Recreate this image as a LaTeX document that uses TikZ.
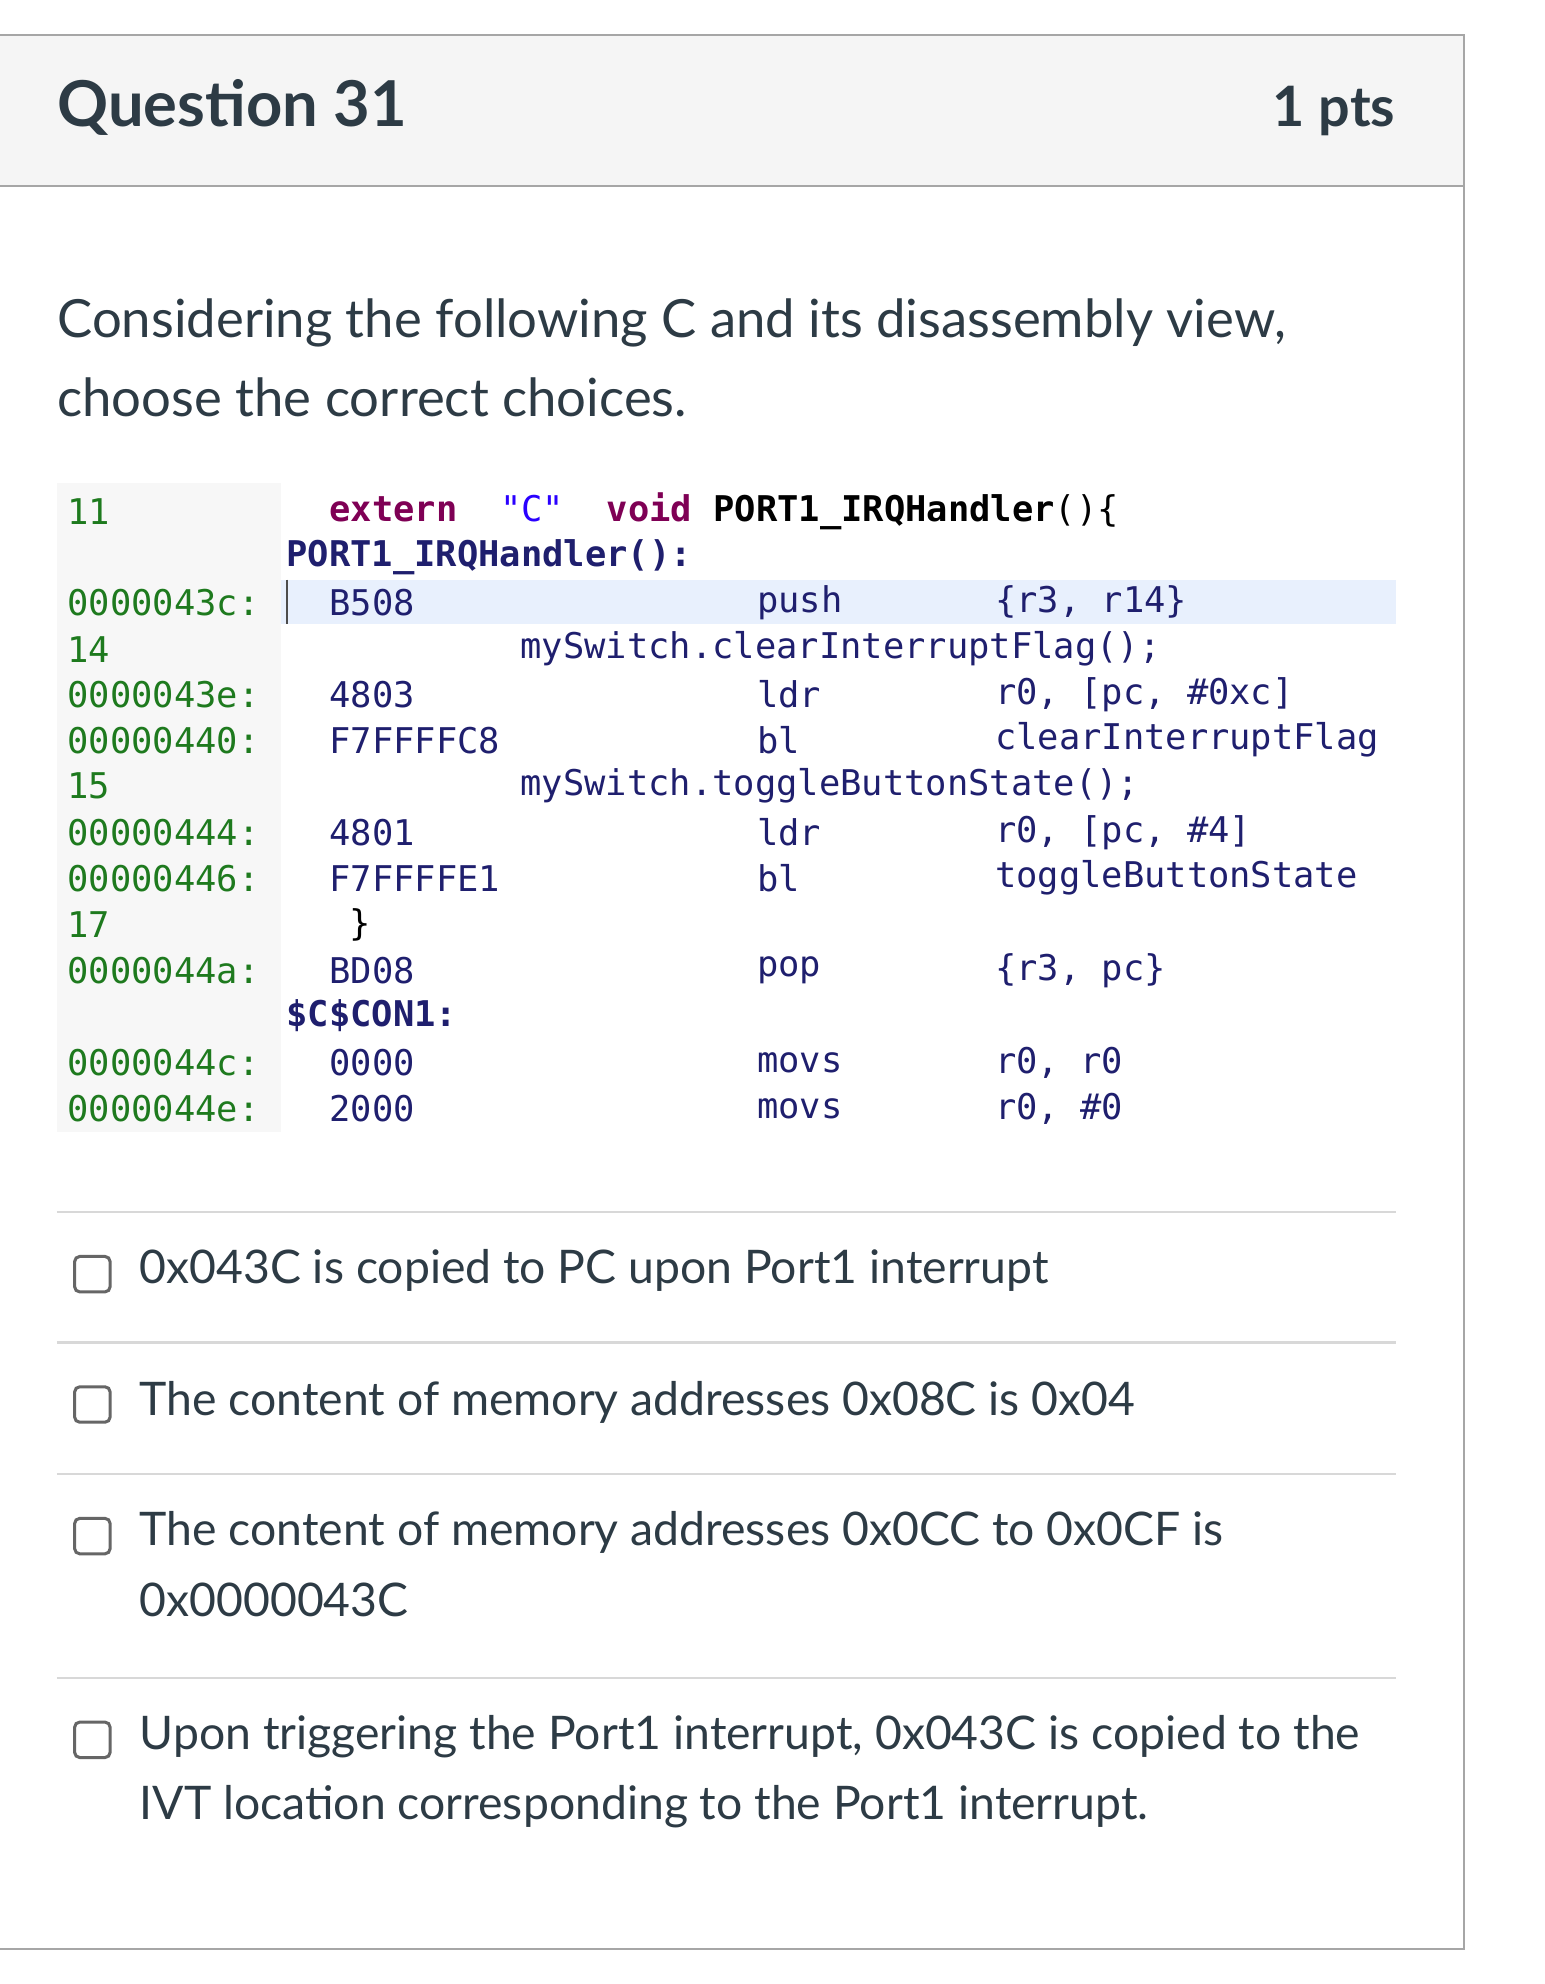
\documentclass[tikz,border=0pt]{standalone}
\usepackage{fontspec}
\setmainfont{Lato}
\newfontfamily\mono{DejaVu Sans Mono}[Scale=1.0]
\definecolor{addr}{HTML}{1E7A1E}
\definecolor{kw}{HTML}{7F0055}
\definecolor{str}{HTML}{2A00FF}
\definecolor{asm}{HTML}{1F1F6E}
\definecolor{hl}{HTML}{E8F0FD}
\definecolor{sep}{HTML}{D8D8D8}
\definecolor{txt}{HTML}{2D3B45}
\tikzset{
  c/.style={anchor=west,inner sep=0pt,font=\mono\fontsize{14}{16}\selectfont,text=asm},
  ad/.style={c,text=addr},
  opt/.style={anchor=west,inner sep=0pt,font=\fontsize{18.3}{28}\selectfont,text=txt,align=left},
  box/.style={draw=black!60,line width=1.2pt,rounded corners=2pt,minimum size=14pt,inner sep=0pt},
}
\begin{document}
\begin{tikzpicture}[x=0.5pt,y=-0.5pt]
\useasboundingbox (0,0) rectangle (1221,1568);
\fill[white] (0,0) rectangle (1221,1568);
\draw[black!35,line width=0.8pt,fill=black!4] (0,28) -- (1157,28) -- (1157,147) -- (0,147);
\draw[black!35,line width=0.8pt] (1157,147) -- (1157,1540) -- (0,1540);
\node[anchor=west,inner sep=0pt,font=\bfseries\fontsize{25}{30}\selectfont,text=txt] (title) at (45,85) {Question 31};
\node[anchor=east,inner sep=0pt,font=\bfseries\fontsize{22}{26}\selectfont,text=txt] (pts) at (1103,88) {1 pts};
\node[anchor=north west,inner sep=0pt,font=\fontsize{20.8}{31}\selectfont,text=txt,align=left] (q) at (45,236) {Considering the following C and its disassembly view,\\choose the correct choices.};
% code block
\fill[black!3] (45,382) rectangle (222,895);
\fill[hl] (222,458) rectangle (1103,493);
\draw[black!70,line width=0.6pt] (227,458) -- (227,493);
\node[ad] (l1) at (53,404) {11};
\node[c] (s1) at (260,404) {\textcolor{kw}{\textbf{extern}}\ \ \textcolor{str}{"C"}\ \ \textcolor{kw}{\textbf{void}} \textcolor{black}{\textbf{PORT1\_IRQHandler}}\textcolor{black}{()\{}};
\node[c,text=asm] (lab1) at (226,440) {\textbf{PORT1\_IRQHandler():}};
\node[ad] (a1) at (53,476) {0000043c:};
\node[c] (h1) at (260,476) {B508};
\node[c] (m1) at (598,476) {push};
\node[c] (o1) at (786,476) {\{r3, r14\}};
\node[ad] (l2) at (53,513) {14};
\node[c] (s2) at (411,513) {mySwitch.clearInterruptFlag();};
\node[ad] (a2) at (53,549) {0000043e:};
\node[c] (h2) at (260,549) {4803};
\node[c] (m2) at (598,549) {ldr};
\node[c] (o2) at (786,549) {r0, [pc, \#0xc]};
\node[ad] (a3) at (53,585) {00000440:};
\node[c] (h3) at (260,585) {F7FFFFC8};
\node[c] (m3) at (598,585) {bl};
\node[c] (o3) at (786,585) {clearInterruptFlag};
\node[ad] (l3) at (53,621) {15};
\node[c] (s3) at (411,621) {mySwitch.toggleButtonState();};
\node[ad] (a4) at (53,658) {00000444:};
\node[c] (h4) at (260,658) {4801};
\node[c] (m4) at (598,658) {ldr};
\node[c] (o4) at (786,658) {r0, [pc, \#4]};
\node[ad] (a5) at (53,694) {00000446:};
\node[c] (h5) at (260,694) {F7FFFFE1};
\node[c] (m5) at (598,694) {bl};
\node[c] (o5) at (786,694) {toggleButtonState};
\node[ad] (l4) at (53,731) {17};
\node[c,text=black] (s4) at (276,731) {\}};
\node[ad] (a6) at (53,767) {0000044a:};
\node[c] (h6) at (260,767) {BD08};
\node[c] (m6) at (598,767) {pop};
\node[c] (o6) at (786,767) {\{r3, pc\}};
\node[c] (lab2) at (226,803) {\textbf{\$C\$CON1:}};
\node[ad] (a7) at (53,840) {0000044c:};
\node[c] (h7) at (260,840) {0000};
\node[c] (m7) at (598,840) {movs};
\node[c] (o7) at (786,840) {r0, r0};
\node[ad] (a8) at (53,876) {0000044e:};
\node[c] (h8) at (260,876) {2000};
\node[c] (m8) at (598,876) {movs};
\node[c] (o8) at (786,876) {r0, \#0};
% options
\foreach \y in {958,1061,1165,1326} \draw[sep,line width=0.8pt] (45,\y) -- (1103,\y);
\node[box] (b1) at (73,1007) {};
\node[opt] (t1) at (110,1004) {0x043C is copied to PC upon Port1 interrupt};
\node[box] (b2) at (73,1110) {};
\node[opt] (t2) at (110,1108) {The content of memory addresses 0x08C is 0x04};
\node[box] (b3) at (73,1214) {};
\node[opt,anchor=north west] (t3) at (110,1194) {The content of memory addresses 0x0CC to 0x0CF is\\0x0000043C};
\node[box] (b4) at (73,1375) {};
\node[opt,anchor=north west] (t4) at (110,1355) {Upon triggering the Port1 interrupt, 0x043C is copied to the\\IVT location corresponding to the Port1 interrupt.};
\end{tikzpicture}
\end{document}
